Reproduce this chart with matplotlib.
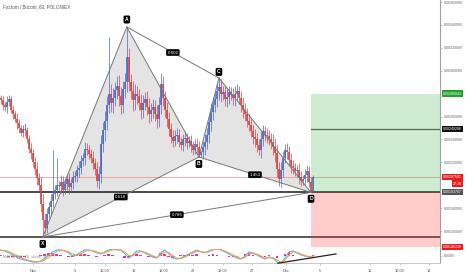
import numpy as np
import pandas as pd
import matplotlib
matplotlib.use("Agg")
import matplotlib.pyplot as plt
import matplotlib.dates as mdates
import matplotlib.transforms as mtransforms

plt.rcParams['font.family'] = ['Liberation Sans', 'DejaVu Sans']

title = "Factom / Bitcoin, 60, POLONIEX"
macd_title = "MACD (12, 26, close, 9)"

# closes in thousands of satoshi (x1e-5 BTC), one every 342 min
first_bar = "2016-10-28 04:00"
bar_minutes = 342
closes_ksat = [
    274, 270, 268, 273, 275, 266, 262, 258, 254, 250, 246, 249, 248, 240, 232, 228,
    220, 214, 206, 200, 184, 170, 163, 175, 181, 186, 192, 196, 200, 199, 203, 196,
    201, 205, 198, 202, 207, 208, 213, 215, 221, 224, 232, 231, 227, 224, 219, 214,
    204, 210, 236, 248, 256, 270, 280, 272, 276, 283, 287, 278, 270, 284, 290, 312,
    290, 282, 274, 280, 278, 272, 266, 272, 275, 268, 262, 266, 268, 262, 258, 270,
    288, 276, 266, 258, 249, 242, 239, 243, 244, 238, 235, 240, 241, 237, 239, 234,
    231, 236, 233, 226, 229, 233, 238, 244, 255, 264, 270, 275, 282, 286, 280, 281,
    275, 277, 281, 279, 276, 280, 282, 276, 270, 266, 262, 256, 253, 247, 242, 240,
    235, 231, 240, 247, 244, 243, 240, 238, 233, 228, 214, 205, 213, 224, 231, 229,
    222, 217, 215, 212, 213, 207, 204, 205, 209, 212, 203, 195, 207.5,
]
# wick length beyond the body on each side, same units
wick_ksat = [
    3, 4, 3, 5, 4, 3, 4, 3, 5, 4, 3, 4, 5, 3, 4, 5,
    4, 5, 6, 5, 7, 8, 6, 5, 4, 6, 5, 4, 5, 4, 6, 5,
    4, 5, 6, 4, 5, 4, 5, 6, 5, 4, 6, 5, 4, 5, 6, 5,
    6, 7, 8, 7, 9, 8, 7, 8, 9, 7, 8, 9, 8, 7, 8, 9,
    8, 7, 9, 8, 7, 6, 8, 7, 6, 7, 8, 6, 7, 6, 8, 7,
    8, 7, 6, 7, 6, 5, 6, 5, 6, 5, 4, 5, 6, 5, 4, 5,
    5, 4, 5, 6, 1, 6, 7, 6, 7, 8, 7, 6, 7, 8, 7, 6,
    6, 7, 6, 5, 6, 7, 6, 5, 6, 7, 6, 5, 6, 5, 6, 7,
    6, 5, 7, 6, 5, 6, 5, 6, 7, 8, 7, 6, 7, 6, 5, 6,
    5, 6, 5, 4, 5, 6, 5, 4, 5, 6, 5, 4, 1,
]

# MACD and signal (x1e-5 BTC), one value every second bar
macd_vals = [
    3.9, 3.2, 1.8, 0.4, -1.1, -2.5, -3.2, -3.9, -4.6, -4.6, -3.9, -1.8, 0.4, 2.5, 3.9, 3.9,
    3.2, 1.8, -0.4, 0.4, 2.5, 3.9, 3.9, 3.2, 1.8, 1.1, 2.5, 3.9, 4.6, 3.9, 3.9, 1.1,
    -1.8, 0.4, 3.2, 3.2, 1.8, 0.4, -1.1, -1.8, 1.8, 3.9, 1.1, -1.8, -2.5, -1.8, -0.4, 1.1,
    2.5, 3.9, 2.5, 1.8, 3.2, 4.6, 4.6, 3.9, 2.5, 1.1, -0.4, -1.8, -2.5, -0.4, 2.5, 1.8,
    0.4, -1.1, -2.5, -1.1, -1.8, -4.6, -5.3, -1.8, 2.5, 3.2, 1.8, 0.4, -0.4, -1.1, -0.4,
]
signal_vals = [
    3.5, 3.6, 2.8, 1.4, 0.0, -1.4, -2.5, -3.3, -4.0, -4.4, -4.3, -3.1, -1.2, 1.0, 2.8, 3.6,
    3.4, 2.5, 0.9, 0.2, 1.2, 2.9, 3.7, 3.4, 2.5, 1.6, 1.9, 3.0, 4.0, 4.1, 3.9, 2.5,
    0.0, -0.2, 1.8, 2.8, 2.3, 1.1, -0.3, -1.3, 0.2, 2.6, 2.0, -0.1, -1.9, -2.1, -1.1, 0.3,
    1.8, 3.0, 2.8, 2.2, 2.6, 3.8, 4.4, 4.1, 3.1, 1.8, 0.4, -1.0, -2.0, -1.4, 1.0, 1.6,
    0.9, -0.3, -1.8, -1.6, -1.6, -3.2, -4.7, -3.2, 0.3, 2.5, 2.3, 1.0, 0.0, -0.8, -0.6,
]
macd_range = (-5.25, 4.55)

# XABCD pattern: bar index and price
pattern_names = ["X", "A", "B", "C", "D"]
pattern_bars = [21, 63, 99, 109, 155]
pattern_prices = [0.0015476, 0.0033817, 0.0022463, 0.0029362, 0.00193707]
pattern_is_low = [True, False, True, False, True]
ratio_pairs = [(0, 2), (1, 3), (2, 4), (0, 4)]
ratio_labels = ["0.618", "0.602", "1.453", "0.786"]
label_offsets = [-5.0, 5.4, -5.0, 4.4, -4.6]

# long wicks
spike_bars = [26, 28, 54, 80]
spike_prices = [0.002307, 0.00224, 0.003294, 0.002979]

# long position tool + levels
target_price = 0.00280043
mid_price = 0.00249296
entry_price = 0.00193707
stop_price = 0.0014622
x_level = 0.0015476
last_price = 0.00207501
countdown = "27:28"

tick_prices = [0.0036, 0.0034, 0.0032, 0.0030, 0.0028, 0.0026, 0.0024, 0.0022,
               0.0018, 0.0016]
time_ticks = ["2016-11-01 00:00", "2016-11-06 00:00", "2016-11-09 12:00",
              "2016-11-13 00:00", "2016-11-16 12:00", "2016-11-20 00:00",
              "2016-11-23 12:00", "2016-11-27 00:00", "2016-12-01 00:00",
              "2016-12-05 00:00", "2016-12-11 00:00", "2016-12-14 12:00",
              "2016-12-18 00:00"]
time_labels = ["Nov", "6", "12:00", "13", "12:00", "20", "12:00", "27", "Dec", "5",
               "11", "12:00", "18"]
view_start = "2016-10-28 02:00"
view_end = "2016-12-19 06:45"

# divergence line on MACD
div_times = ["2016-11-30 01:30", "2016-12-06 22:30"]
div_vals = [-5.4, 1.1]

up_col = "#4a66d0"
down_col = "#dc3f3f"

fig = plt.figure(figsize=(4.66, 2.75), dpi=100)
ax = fig.add_axes([0, 1 - 249 / 275, 440 / 466, 249 / 275])
axm = fig.add_axes([0, 1 - 263 / 275, 440 / 466, 14 / 275], sharex=ax)

times = pd.date_range(first_bar, periods=len(closes_ksat), freq=f"{bar_minutes}min")
t = mdates.date2num(times.to_pydatetime())
close = np.array(closes_ksat) * 1e-5
open_ = np.r_[close[0] + 2e-5, close[:-1]]
wick = np.array(wick_ksat) * 1e-5
hi = np.maximum(open_, close) + wick
lo = np.minimum(open_, close) - wick
for b, p, low in zip(pattern_bars, pattern_prices, pattern_is_low):
    if low:
        lo[b] = p
    else:
        hi[b] = p
for b, p in zip(spike_bars, spike_prices):
    hi[b] = max(hi[b], p)
cols = np.where(close >= open_, up_col, down_col)

x0 = mdates.date2num(pd.Timestamp(view_start))
x1 = mdates.date2num(pd.Timestamp(view_end))

# levels
ax.axhline(entry_price, color="#3a3a3a", lw=1.3, zorder=1.5)
ax.axhline(x_level, color="#2a2a2a", lw=1.1, zorder=1.5)
ax.axhline(last_price, color="#f08a8a", lw=0.5, zorder=1.5)

# candles
ax.vlines(t, lo, hi, colors=cols, lw=0.5, zorder=2)
ax.vlines(t, np.minimum(open_, close), np.maximum(open_, close), colors=cols,
          lw=1.2, zorder=2)

# pattern
pt = t[pattern_bars]
pp = np.array(pattern_prices)
for tri in ([0, 1, 2], [2, 3, 4]):
    ax.fill(pt[tri], pp[tri], color="#a0a0a0", alpha=0.28, lw=0, zorder=1)
for a, b in [(0, 1), (1, 2), (2, 0), (2, 3), (3, 4), (4, 2), (1, 3), (0, 4)]:
    ax.plot([pt[a], pt[b]], [pp[a], pp[b]], color="#777777", lw=0.7, zorder=3)
for name, x, y, off in zip(pattern_names, pt, pp, label_offsets):
    ax.annotate(name, (x, y), xytext=(0, off), textcoords="offset points",
                ha="center", va="center", fontsize=3.6, color="white",
                fontweight="bold", zorder=6,
                bbox=dict(boxstyle="round,pad=0.3", fc="black", ec="none"))
for (a, b), lab in zip(ratio_pairs, ratio_labels):
    ax.text((pt[a] + pt[b]) / 2, (pp[a] + pp[b]) / 2, lab, ha="center", va="center",
            fontsize=3.2, color="white", zorder=6,
            bbox=dict(boxstyle="round,pad=0.3", fc="black", ec="none"))

# long position boxes
ax.fill_between([pt[4], x1], entry_price, target_price, color="#3cb44b",
                alpha=0.25, lw=0, zorder=4)
ax.fill_between([pt[4], x1], stop_price, entry_price, color="#ff3333",
                alpha=0.25, lw=0, zorder=4)
ax.plot([pt[4], x1], [mid_price, mid_price], color="#4f6a4f", lw=0.9, zorder=4)

ax.set_xlim(x0, x1)
ax.set_ylim(0.0014428, 0.0036175)

for s in ("top", "left"):
    ax.spines[s].set_visible(False)
    axm.spines[s].set_visible(False)
for a_ in (ax, axm):
    a_.spines["right"].set_color("#a0a0a0")
    a_.spines["right"].set_linewidth(0.8)
    a_.spines["bottom"].set_color("#c0c0c0")
    a_.spines["bottom"].set_linewidth(0.6)

ax.yaxis.tick_right()
ax.set_yticks(tick_prices)
ax.set_yticklabels([f"{p:.8f}" for p in tick_prices])
ax.tick_params(axis="y", length=1.5, width=0.4, color="#999999", labelsize=2.6,
               labelcolor="#666666", pad=1)
ax.tick_params(axis="x", bottom=False, labelbottom=False)

trans = mtransforms.blended_transform_factory(ax.transAxes, ax.transData)
for price, fc in [(target_price, "#21a32a"), (mid_price, "#111111"),
                  (last_price, "#e41e1e"), (entry_price, "#555555"),
                  (stop_price, "#e41e1e")]:
    ax.text(1.006, price, f"{price:.8f}", transform=trans, fontsize=2.6,
            color="white", ha="left", va="center", clip_on=False, zorder=10,
            bbox=dict(boxstyle="square,pad=0.3", fc=fc, ec="none"))
ax.annotate(countdown, xy=(1.0, last_price), xycoords=trans, xytext=(9.4, -5.0),
            textcoords="offset points", fontsize=2.6, color="white", ha="left",
            va="center", annotation_clip=False, zorder=11,
            bbox=dict(boxstyle="square,pad=0.3", fc="#e41e1e", ec="none"))

fig.text(3 / 466, 1 - 7 / 275, title, fontsize=3.3, color="#555555", va="center")

# MACD panel
tm = t[::2]
macd = np.array(macd_vals) * 1e-5
signal = np.array(signal_vals) * 1e-5
axm.bar(tm, macd - signal, width=bar_minutes * 2 / 1440 * 0.7, color="#ff2d86",
        zorder=2)
axm.plot(tm, macd, color="#55b4ee", lw=0.8, zorder=3)
axm.plot(tm, signal, color="#f3a24a", lw=0.8, zorder=3)
axm.set_ylim(macd_range[0] * 1e-5, macd_range[1] * 1e-5)
axm.plot(mdates.date2num(pd.to_datetime(div_times).to_pydatetime()),
         np.array(div_vals) * 1e-5, color="#222222", lw=0.9, zorder=4, clip_on=False)
axm.text(3 / 440, 0.45, macd_title, transform=axm.transAxes, fontsize=3,
         color="#888888", va="center", zorder=5)
axm.yaxis.tick_right()
axm.set_yticks([0])
axm.set_yticklabels(["0.0000"])
axm.tick_params(axis="y", length=1.5, width=0.4, color="#999999", labelsize=2.6,
                labelcolor="#666666", pad=1)
axm.set_xticks(mdates.date2num(pd.to_datetime(time_ticks).to_pydatetime()))
axm.set_xticklabels(time_labels)
axm.tick_params(axis="x", length=1.5, width=0.4, color="#999999", labelsize=2.8,
                labelcolor="#555555", pad=2.8)
axm.set_xlim(x0, x1)

fig.savefig("out.png", dpi=100)
